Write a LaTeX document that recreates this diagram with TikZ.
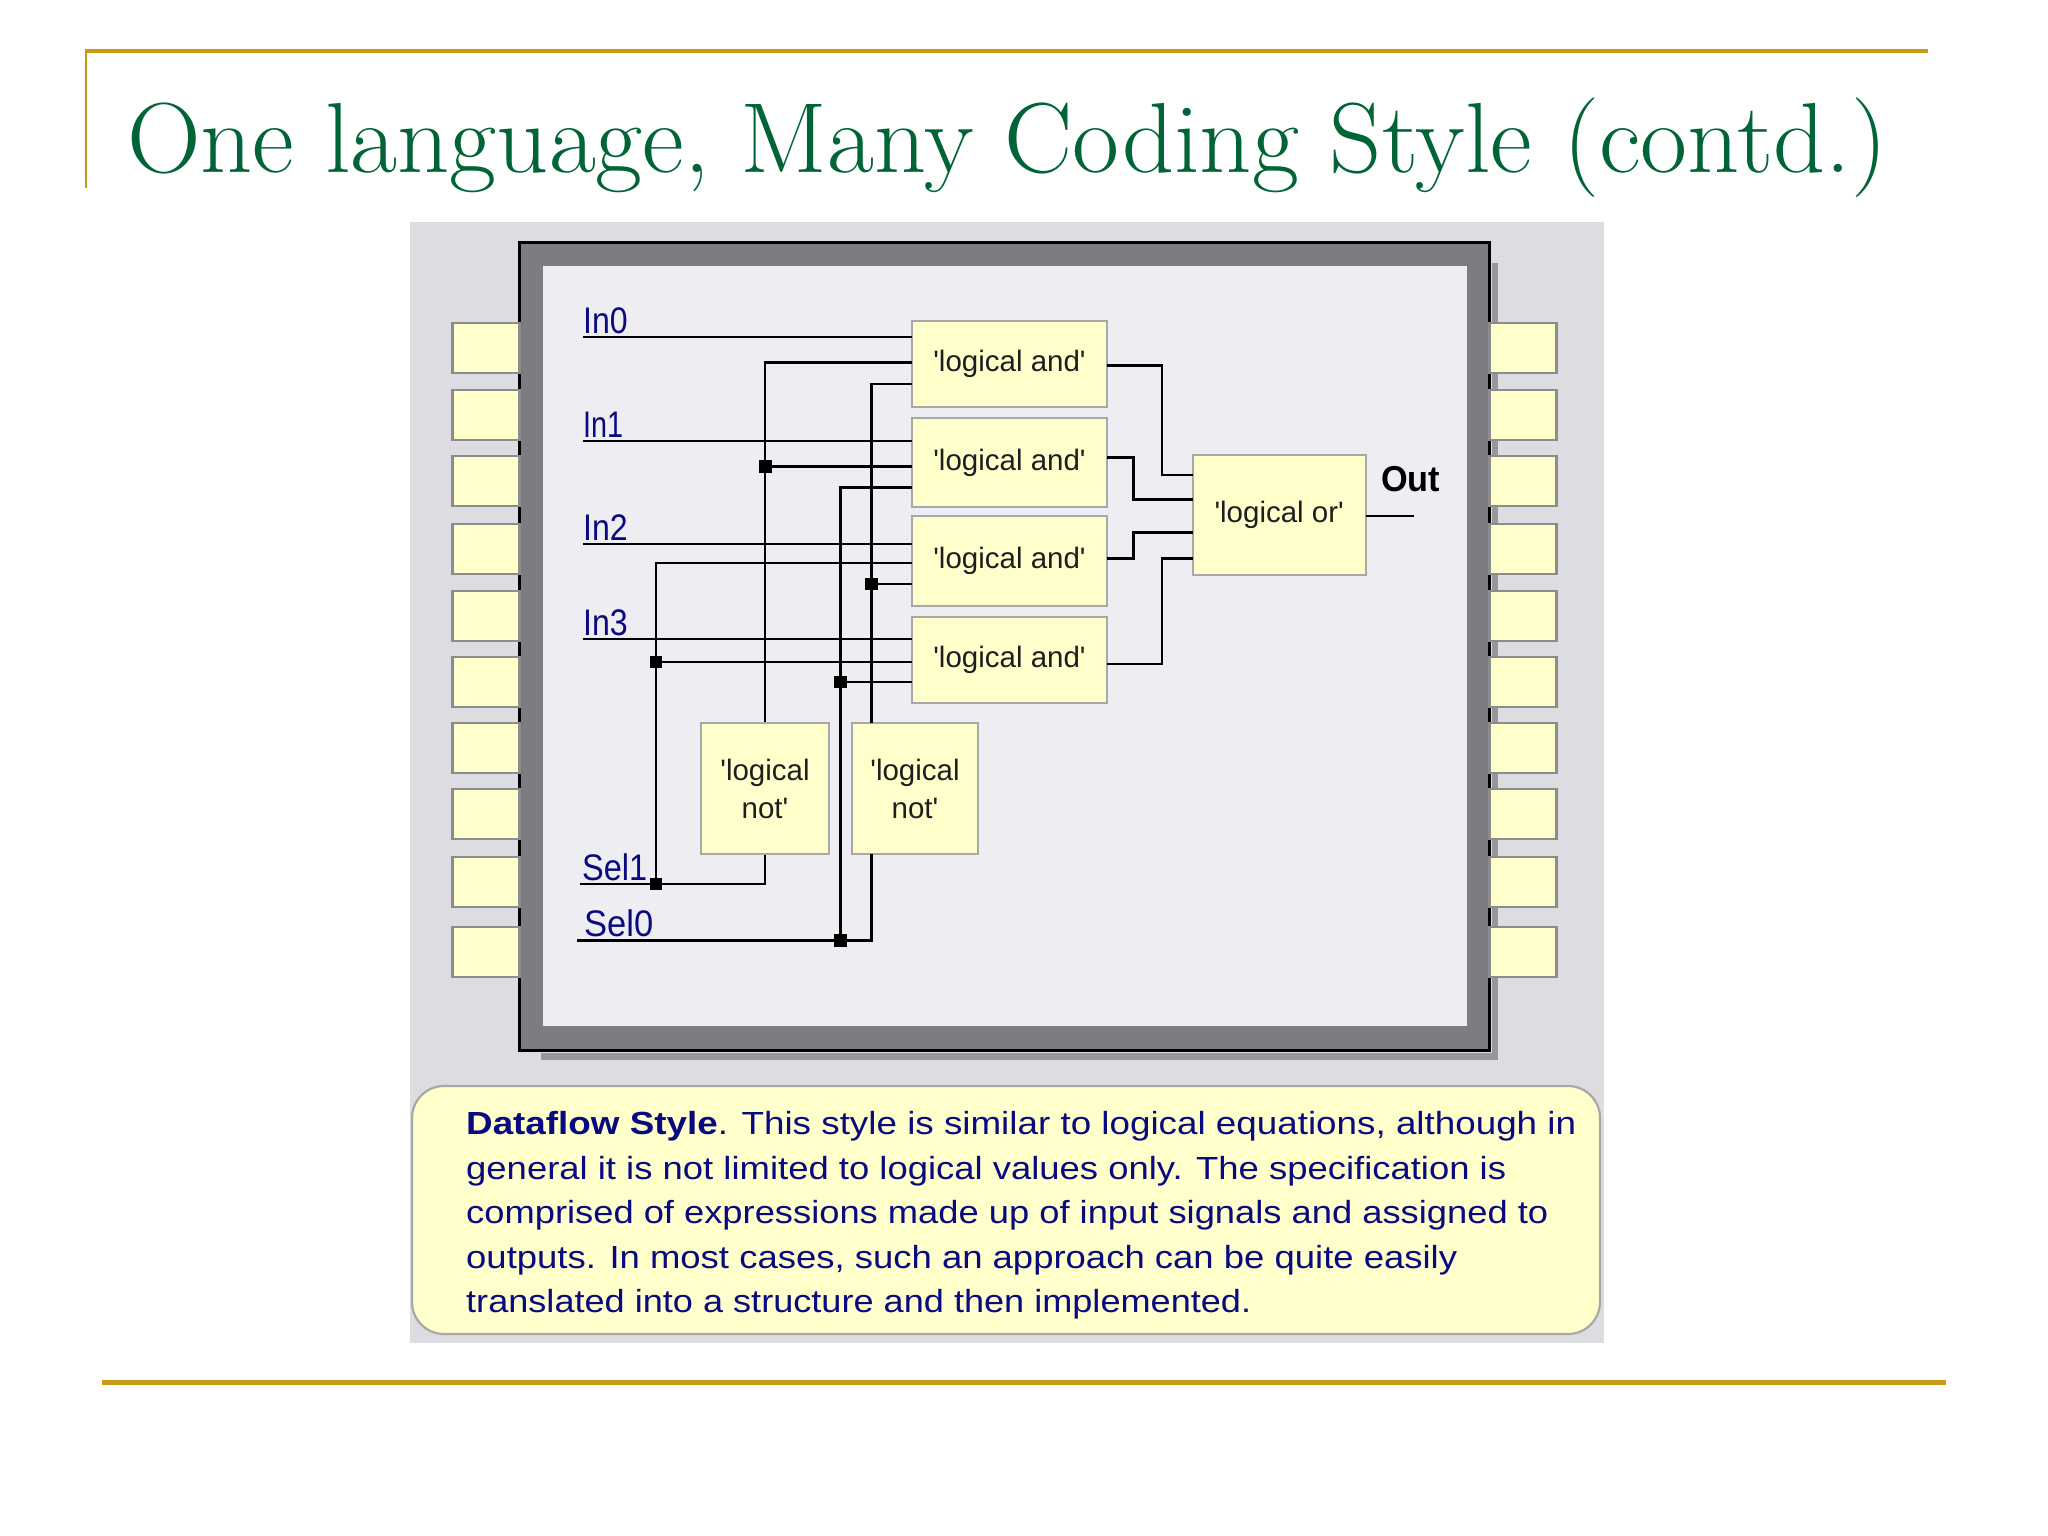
\documentclass[tikz,border=0pt]{standalone}
\usepackage{fontspec}
\usepackage{graphicx}
\newfontfamily\lsans[Ligatures=TeXOff]{Liberation Sans}
\definecolor{titlegreen}{RGB}{0,100,55}
\definecolor{gold}{RGB}{201,154,22}
\definecolor{panelgray}{RGB}{221,220,224}
\definecolor{framegray}{RGB}{125,124,128}
\definecolor{innergray}{RGB}{238,237,241}
\definecolor{shadowgray}{RGB}{150,150,155}
\definecolor{padyellow}{RGB}{255,255,204}
\definecolor{padgray}{RGB}{140,140,140}
\definecolor{boxgray}{RGB}{168,168,168}
\definecolor{navy}{RGB}{10,10,128}
\definecolor{textdark}{RGB}{30,30,30}
\begin{document}
\begin{tikzpicture}[x=1pt,y=-1pt,
  wire/.style={line width=2.6pt,black},
  gate/.style={draw=boxgray,fill=padyellow,line width=2.2pt,inner sep=0pt,
    font=\lsans\fontsize{29.5}{38}\selectfont,text=textdark,align=center},
  pad/.style={draw=padgray,fill=padyellow,line width=2.2pt,inner sep=0pt,
    minimum width=67pt,minimum height=50pt},
  jdot/.style={fill=black,rectangle,minimum size=12.5pt,inner sep=0pt},
  lbl/.style={anchor=base west,inner sep=0pt,text=navy,
    font=\lsans\fontsize{37}{40}\selectfont},
  capline/.style={anchor=base west,inner sep=0pt,text=navy,
    font=\lsans\fontsize{32}{36}\selectfont},
  capbox/.style={draw=boxgray,fill=padyellow,line width=2.2pt,rounded corners=32pt,
    minimum width=1188pt,minimum height=248pt,inner sep=0pt}
]
\useasboundingbox (0,0) rectangle (2048,1536);
\fill[white] (0,0) rectangle (2048,1536);

% slide decorations
\draw[gold,line width=4pt] (85,51) -- (1928,51);
\draw[gold,line width=2.5pt] (86,51) -- (86,188);
\draw[gold,line width=5.5pt] (102,1382.5) -- (1946,1382.5);

\node[anchor=base west,inner sep=0pt,text=titlegreen] (title) at (127,172.7)
  {\resizebox{1760pt}{\height}{\fontsize{99.6}{110}\selectfont One language, Many Coding Style (contd.)}};

% panel and chip
\fill[panelgray] (410,222) rectangle (1604,1343);
\fill[shadowgray] (1492,263) rectangle (1498,1060);
\fill[shadowgray] (541,1053) rectangle (1498,1060);
\filldraw[fill=framegray,draw=black,line width=3pt] (519,242) rectangle (1489,1050);
\fill[innergray] (543,266) rectangle (1467,1026);

\foreach \t [count=\i] in {323,390,456,524,591,657,723,789,857,927}{
  \node[pad] (pl\i) at (486,\t+25) {};
  \node[pad] (pr\i) at (1523,\t+25) {};
}

% gates
\node[gate,minimum width=195pt,minimum height=86pt] (a1) at (1009.5,364) {'logical and'};
\node[gate,minimum width=195pt,minimum height=89pt] (a2) at (1009.5,462.5) {'logical and'};
\node[gate,minimum width=195pt,minimum height=90pt] (a3) at (1009.5,561) {'logical and'};
\node[gate,minimum width=195pt,minimum height=86pt] (a4) at (1009.5,660) {'logical and'};
\node[gate,minimum width=173pt,minimum height=120pt] (or) at (1279.2,515) {'logical or'};
\node[gate,minimum width=128pt,minimum height=131.6pt] (n1) at (765,788.5) {'logical\\not'};
\node[gate,minimum width=126pt,minimum height=131.6pt] (n2) at (915,788.5) {'logical\\not'};

% labels
\node[lbl] (in0) at (583,333) {\resizebox{44.6pt}{\height}{In0}};
\node[lbl] (in1) at (583,437) {\resizebox{40pt}{\height}{In1}};
\node[lbl] (in2) at (583,540) {\resizebox{44.6pt}{\height}{In2}};
\node[lbl] (in3) at (583,635) {\resizebox{44.6pt}{\height}{In3}};
\node[lbl] (sel1) at (582,880) {\resizebox{65pt}{\height}{Sel1}};
\node[lbl] (sel0) at (584,936) {\resizebox{69pt}{\height}{Sel0}};
\node[anchor=base west,inner sep=0pt,text=black,font=\lsans\bfseries\fontsize{36}{40}\selectfont]
  (out) at (1381,491.7) {\resizebox{59pt}{\height}{Out}};

% pin coordinates
\coordinate (in0s) at (583,337);
\coordinate (in1s) at (583,441);
\coordinate (in2s) at (583,544);
\coordinate (in3s) at (583,639);
\coordinate (sel1s) at (580,884);
\coordinate (sel0s) at (577,940.7);
\coordinate (a1i1) at (912,337);
\coordinate (a1i2) at (912,362.7);
\coordinate (a1i3) at (912,384);
\coordinate (a2i1) at (912,441);
\coordinate (a2i2) at (912,466.7);
\coordinate (a2i3) at (912,487.7);
\coordinate (a3i1) at (912,544);
\coordinate (a3i2) at (912,563);
\coordinate (a3i3) at (912,584);
\coordinate (a4i1) at (912,639);
\coordinate (a4i2) at (912,662);
\coordinate (a4i3) at (912,682);
\coordinate (a1o) at (1107,365.3);
\coordinate (a2o) at (1107,457.7);
\coordinate (a3o) at (1107,558.3);
\coordinate (a4o) at (1107,664);
\coordinate (ori1) at (1192.7,475);
\coordinate (ori2) at (1192.7,499.3);
\coordinate (ori3) at (1192.7,532.7);
\coordinate (ori4) at (1192.7,558.3);
\coordinate (oro) at (1365.7,516);
\coordinate (outend) at (1414,516);
\coordinate (n2t) at (871.4,722.7);
\coordinate (n2b) at (871.4,854.3);
\coordinate (j1) at (656,662);
\coordinate (j2) at (765.5,466.7);
\coordinate (j3) at (840.6,682);
\coordinate (j4) at (871.4,584);
\coordinate (js1) at (656,884);
\coordinate (js0) at (840.6,940.7);

% input wires
\draw[wire] (in0s) -- (a1i1);
\draw[wire] (in1s) -- (a2i1);
\draw[wire] (in2s) -- (a3i1);
\draw[wire] (in3s) -- (a4i1);
\draw[wire] (a3i2) -| (js1);
\draw[wire] (j1) -- (a4i2);
\draw[wire] (sel1s) -| (n1.south);
\draw[wire] (a1i2) -| (n1.north);
\draw[wire] (j2) -- (a2i2);
\draw[wire] (a2i3) -| (js0);
\draw[wire] (j3) -- (a4i3);
\draw[wire] (sel0s) -| (n2b);
\draw[wire] (a1i3) -| (n2t);
\draw[wire] (j4) -- (a3i3);
\foreach \j in {j1,j2,j3,j4,js1,js0} \node[jdot] at (\j) {};

% output wires
\draw[wire] (a1o) -| (1161.8,475) -- (ori1);
\draw[wire] (a2o) -| (1133.4,499.3) -- (ori2);
\draw[wire] (a3o) -| (1133.4,532.7) -- (ori3);
\draw[wire] (a4o) -| (1161.8,558.3) -- (ori4);
\draw[wire] (oro) -- (outend);

% caption
\node[capbox] (cap) at (1006,1210) {};
\node[capline] (c1) at (466,1134) {\resizebox{1110pt}{\height}{\textbf{Dataflow Style}. This style is similar to logical equations, although in}};
\node[capline] (c2) at (466,1179) {\resizebox{1040pt}{\height}{general it is not limited to logical values only. The specification is}};
\node[capline] (c3) at (466,1223.5) {\resizebox{1082pt}{\height}{comprised of expressions made up of input signals and assigned to}};
\node[capline] (c4) at (466,1268) {\resizebox{991pt}{\height}{outputs. In most cases, such an approach can be quite easily}};
\node[capline] (c5) at (466,1312) {\resizebox{785pt}{\height}{translated into a structure and then implemented.}};
\end{tikzpicture}
\end{document}
